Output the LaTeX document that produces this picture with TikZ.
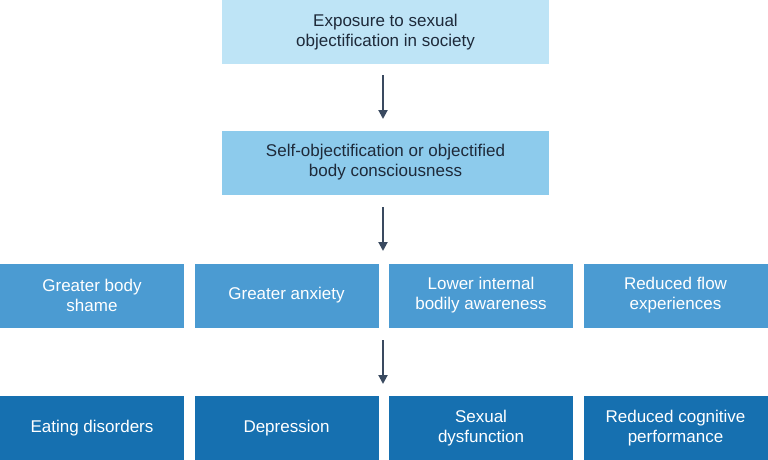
\documentclass[tikz,border=0pt]{standalone}
\usepackage{fontspec}
\setmainfont{Liberation Sans}
\usetikzlibrary{arrows.meta}
\definecolor{c1}{HTML}{BEE4F6}
\definecolor{c2}{HTML}{8DCBEC}
\definecolor{c3}{HTML}{4B9BD2}
\definecolor{c4}{HTML}{1670B0}
\definecolor{tx}{HTML}{1E2A3A}
\definecolor{ar}{HTML}{3A4A60}
\begin{document}
\begin{tikzpicture}[x=1pt,y=-1pt,
 box/.style={draw=none,minimum height=64pt,align=center,font=\fontsize{17}{20}\selectfont,inner sep=0pt},
 arr/.style={draw=ar,line width=2pt,-{Triangle[length=9pt,width=9pt]}}]
\useasboundingbox (0,0) rectangle (768,460);
\node[box,fill=c1,text=tx,minimum width=327pt] (a) at (385.5,32) {Exposure to sexual\\objectification in society};
\node[box,fill=c2,text=tx,minimum width=327pt] (b) at (385.5,162.5) {Self-objectification or objectified\\body consciousness};
\foreach \n/\x/\t in {r1/92/{Greater body\\shame},r2/286.5/{Greater anxiety},r3/481/{Lower internal\\bodily awareness},r4/675.5/{Reduced flow\\experiences}}
 \node[box,fill=c3,text=white,minimum width=184pt] (\n) at (\x,295.5) {\t};
\foreach \n/\x/\t in {s1/92/{Eating disorders},s2/286.5/{Depression},s3/481/{Sexual\\dysfunction},s4/675.5/{Reduced cognitive\\performance}}
 \node[box,fill=c4,text=white,minimum width=184pt] (\n) at (\x,428) {\t};
\coordinate (p1) at (383,75); \coordinate (q1) at (383,119);
\coordinate (p2) at (383,207); \coordinate (q2) at (383,251);
\coordinate (p3) at (383,340); \coordinate (q3) at (383,384);
\draw[arr] (p1) -- (q1);
\draw[arr] (p2) -- (q2);
\draw[arr] (p3) -- (q3);
\end{tikzpicture}
\end{document}
